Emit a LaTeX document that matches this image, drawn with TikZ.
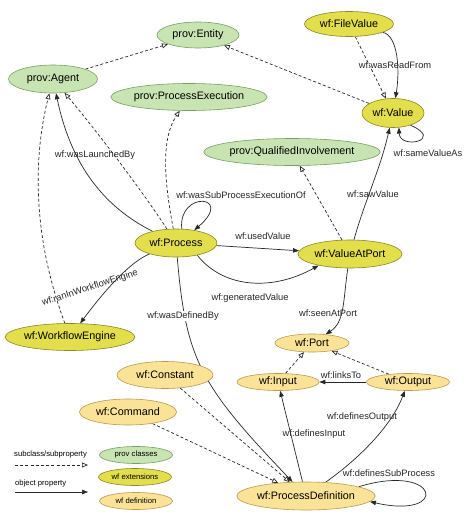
\documentclass[tikz,border=0pt]{standalone}
\usepackage{fontspec}
\setmainfont{Liberation Sans}
\usetikzlibrary{shapes.geometric,arrows.meta}
\pgfdeclarelayer{back}
\pgfdeclarelayer{bg}
\pgfsetlayers{back,bg,main}
\definecolor{provfill}{RGB}{200,228,178}
\definecolor{provline}{RGB}{120,160,100}
\definecolor{wfxfill}{RGB}{226,222,76}
\definecolor{wfxline}{RGB}{140,135,40}
\definecolor{wfdfill}{RGB}{250,226,150}
\definecolor{wfdline}{RGB}{185,155,80}
\definecolor{edgecol}{RGB}{40,40,40}
\tikzset{
  base/.style={ellipse, draw, line width=0.6pt, inner sep=0pt, font=\fontsize{10.8}{12}\selectfont},
  provn/.style={base, fill=provfill, draw=provline},
  wfxn/.style={base, fill=wfxfill, draw=wfxline},
  wfdn/.style={base, fill=wfdfill, draw=wfdline},
  legn/.style={font=\fontsize{7.7}{9}\selectfont, minimum width=73pt, minimum height=17pt},
  subrel/.style={draw=edgecol, line width=0.7pt, dash pattern=on 3pt off 2.2pt, -{Triangle[open,length=6pt,width=5pt]}},
  objrel/.style={draw=edgecol, line width=0.7pt, -{Triangle[length=6pt,width=4.5pt]}},
  lbl/.style={font=\fontsize{9.3}{11}\selectfont, inner sep=1pt, text=black!85},
  legtxt/.style={font=\fontsize{7.7}{9}\selectfont, inner sep=0pt, anchor=west}
}
\begin{document}
\begin{tikzpicture}[x=1pt,y=-1pt]
\begin{pgfonlayer}{back}
\fill[white] (0,0) rectangle (474,519);
\end{pgfonlayer}
\useasboundingbox (0,0) rectangle (474,519);
% nodes
\node[provn, minimum width=82pt, minimum height=26pt] (entity) at (198,35) {prov:Entity};
\node[provn, minimum width=89pt, minimum height=28pt] (agent) at (53,79) {prov:Agent};
\node[provn, minimum width=156pt, minimum height=27pt] (pexec) at (189,97) {prov:ProcessExecution};
\node[provn, minimum width=172pt, minimum height=27pt] (qinv) at (292,152) {prov:QualifiedInvolvement};
\node[wfxn, minimum width=89pt, minimum height=25pt] (filev) at (349,24) {wf:FileValue};
\node[wfxn, minimum width=62pt, minimum height=29pt] (value) at (393,113) {wf:Value};
\node[wfxn, minimum width=82pt, minimum height=28pt] (proc) at (176,243) {wf:Process};
\node[wfxn, minimum width=104pt, minimum height=28pt] (vap) at (350,254) {wf:ValueAtPort};
\node[wfxn, minimum width=125pt, minimum height=27pt] (wfe) at (70,337) {wf:WorkflowEngine};
\node[wfdn, minimum width=96pt, minimum height=27pt] (const) at (165,375) {wf:Constant};
\node[wfdn, minimum width=74pt, minimum height=18pt] (port) at (312,343) {wf:Port};
\node[wfdn, minimum width=82pt, minimum height=17pt] (input) at (278,382) {wf:Input};
\node[wfdn, minimum width=83pt, minimum height=17pt] (output) at (408,382) {wf:Output};
\node[wfdn, minimum width=97pt, minimum height=26pt] (cmd) at (128,412) {wf:Command};
\node[wfdn, minimum width=138pt, minimum height=28pt] (pd) at (306,496) {wf:ProcessDefinition};
% legend
\node[provn, legn] (lprov) at (136,455) {prov classes};
\node[wfxn, legn] (lwfx) at (135,477) {wf extensions};
\node[wfdn, legn] (lwfd) at (136,501) {wf definition};
\node[legtxt] (lsubtxt) at (14,455) {subclass/subproperty};
\node[legtxt] (lobjtxt) at (15,484) {object property};
\coordinate (ls1) at (15,465);
\coordinate (ls2) at (88,465);
\coordinate (lo1) at (15,492);
\coordinate (lo2) at (88,492);
% edges
\begin{pgfonlayer}{bg}
\draw[subrel] (ls1) -- (ls2);
\draw[objrel] (lo1) -- (lo2);
% subclass / subproperty
\draw[subrel] (agent) -- (entity);
\draw[subrel] (value) -- (entity);
\draw[subrel] (filev) -- (value);
\draw[subrel] (vap) -- (qinv);
\draw[subrel] (proc) .. controls (165,185) and (160,140) .. (pexec);
\draw[subrel] (proc) .. controls (145,195) and (100,135) .. (agent);
\draw[subrel] (wfe) .. controls (30,230) and (35,150) .. (agent);
\draw[subrel] (input) -- (port);
\draw[subrel] (output) -- (port);
\draw[subrel] (const) -- (pd);
\draw[subrel] (cmd) -- (pd);
% object properties
\draw[objrel] (filev) .. controls (398,36) and (400,70) .. (value);
\draw[objrel] (value.-35) .. controls (445,140) and (400,150) .. (value.-68);
\draw[objrel] (vap) .. controls (365,200) and (380,170) .. (value);
\draw[objrel] (proc) .. controls (100,205) and (70,160) .. (agent);
\draw[objrel] (proc.68) .. controls (178,190) and (235,195) .. (proc.35);
\draw[objrel] (proc) .. controls (130,262) and (105,290) .. (wfe);
\draw[objrel] (proc) -- (vap);
\draw[objrel] (proc.-30) .. controls (225,290) and (275,290) .. (vap.-160);
\draw[objrel] (proc) .. controls (186,360) and (200,385) .. (pd);
\draw[objrel] (vap) .. controls (343,300) and (345,322) .. (port);
\draw[objrel] (output) -- (input);
\draw[objrel] (pd) -- (input);
\draw[objrel] (pd) .. controls (360,458) and (392,425) .. (output);
\draw[objrel] (pd.10) .. controls (440,462) and (450,520) .. (pd.-5);
\end{pgfonlayer}
% labels
\node[lbl] (l1) at (395,65) {wf:wasReadFrom};
\node[lbl] (l2) at (428,153) {wf:sameValueAs};
\node[lbl] (l3) at (373,194) {wf:sawValue};
\node[lbl] (l4) at (95,155) {wf:wasLaunchedBy};
\node[lbl] (l5) at (241,195) {wf:wasSubProcessExecutionOf};
\node[lbl, rotate=18] (l6) at (90,288) {wf:ranInWorkflowEngine};
\node[lbl] (l7) at (263,236) {wf:usedValue};
\node[lbl] (l8) at (250,298) {wf:generatedValue};
\node[lbl, fill=white] (l9) at (183,316) {wf:wasDefinedBy};
\node[lbl] (l10) at (328,313) {wf:seenAtPort};
\node[lbl] (l11) at (341,375) {wf:linksTo};
\node[lbl] (l12) at (314,434) {wf:definesInput};
\node[lbl] (l13) at (362,417) {wf:definesOutput};
\node[lbl] (l14) at (389,473) {wf:definesSubProcess};
\end{tikzpicture}
\end{document}
